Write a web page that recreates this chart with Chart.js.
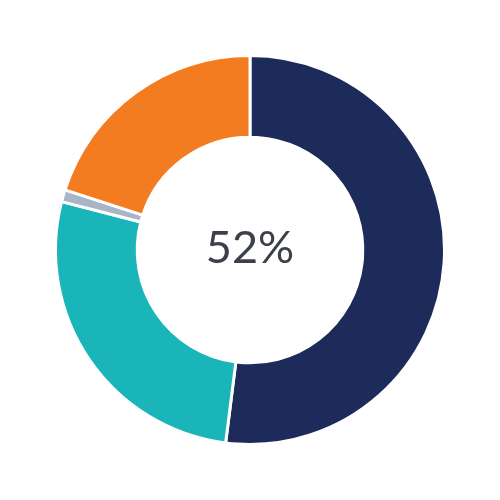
<!DOCTYPE html>
<html>
<head>
<meta charset="utf-8">
<script src="https://cdn.jsdelivr.net/npm/chart.js@4"></script>
<style>
  html, body { margin: 0; padding: 0; background: #fff; }
  #wrap { width: 500px; height: 500px; position: relative; }
</style>
</head>
<body>
<div id="wrap"><canvas id="chartD"></canvas></div>
<script>
const labels = ['A', 'B', 'C', 'D'];
const values = [52, 27, 1, 20];
const colors = ['#1c2b5a', '#1ab5b8', '#a9b4c6', '#f47c20'];
const centerText = '52%';

// центральная подпись
const centerLabel = {
  id: 'centerLabel',
  afterDraw(chart) {
    const meta = chart.getDatasetMeta(0).data[0];
    if (!meta) return;
    const ctx = chart.ctx;
    ctx.save();
    ctx.font = '400 45px Lato';
    ctx.fillStyle = '#3b4049';
    ctx.textAlign = 'center';
    ctx.textBaseline = 'middle';
    ctx.fillText(centerText, meta.x, meta.y - 2);
    ctx.restore();
  }
};

new Chart(document.getElementById('chartD'), {
  type: 'doughnut',
  data: {
    labels,
    datasets: [{
      data: values,
      backgroundColor: colors,
      borderColor: '#fff',
      borderWidth: 3,
    }]
  },
  options: {
    responsive: true,
    maintainAspectRatio: false,
    animation: false,
    cutout: '58%',
    layout: { padding: 54 },
    plugins: {
      legend: { display: false },
      tooltip: { enabled: false }
    }
  },
  plugins: [centerLabel]
});
</script>
</body>
</html>
